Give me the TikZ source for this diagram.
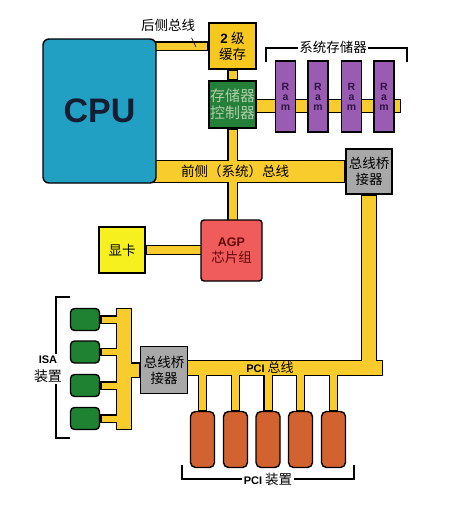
\documentclass[tikz,border=0pt]{standalone}
\usepackage{fontspec}
\setmainfont{Liberation Sans}
\newfontfamily\cjk{Noto Sans CJK SC}
\usetikzlibrary{backgrounds}

\definecolor{cpublue}{RGB}{33,160,196}
\definecolor{cpuink}{RGB}{20,30,50}
\definecolor{cacheyellow}{RGB}{246,200,30}
\definecolor{busyellow}{RGB}{248,204,45}
\definecolor{ctrlgreen}{RGB}{36,128,56}
\definecolor{ctrlink}{RGB}{175,205,170}
\definecolor{rampurple}{RGB}{154,92,178}
\definecolor{ramink}{RGB}{50,20,70}
\definecolor{bridgegray}{RGB}{168,168,168}
\definecolor{agpred}{RGB}{240,92,92}
\definecolor{agpink}{RGB}{100,10,10}
\definecolor{cardyellow}{RGB}{246,240,30}
\definecolor{isagreen}{RGB}{30,130,50}
\definecolor{pciorange}{RGB}{210,98,48}

\newcommand{\zh}[1]{{\cjk #1}}

\tikzset{
	box/.style={draw, line width=1.4pt, inner sep=0pt, align=center},
	zhfont/.style={font=\cjk\fontsize{13.5}{16}\selectfont},
	ramfont/.style={font=\bfseries\fontsize{10.5}{10}\selectfont},
	bus/.style={line width=#1+\bx, draw=\bc, shorten <=\bs, shorten >=\bs},
	bracket/.style={line width=1.6pt},
	tag/.style={fill=white, inner sep=1.5pt, align=center},
}

\begin{document}
\begin{tikzpicture}[x=1pt, y=-1pt]
			\useasboundingbox (0, 0) rectangle (463, 514);

			% upper part
			\draw (99.5, 111) 	node[box, fill=cpublue, rounded corners=6pt, minimum width=113pt, minimum height=144pt, text=cpuink, font=\fontsize{34}{40}\selectfont\bfseries] 	(cpu) 	{CPU};
			\draw (232.5, 46) 	node[box, fill=cacheyellow, minimum width=47pt, minimum height=46pt, zhfont] 	(l2) 	{{\rmfamily\bfseries 2} 级\\缓存};
			\draw (232.5, 104.5) 	node[box, fill=ctrlgreen, minimum width=47pt, minimum height=47pt, text=ctrlink, font=\cjk\fontsize{15}{17}\selectfont] 	(ctrl) 	{存储器\\控制器};
			\draw (285.5, 96.5) 	node[box, fill=rampurple, minimum width=20pt, minimum height=71pt, text=ramink, ramfont] 	(ram1) 	{R\\a\\m};
			\draw (318, 96.5) 	node[box, fill=rampurple, minimum width=20pt, minimum height=71pt, text=ramink, ramfont] 	(ram2) 	{R\\a\\m};
			\draw (351.5, 96.5) 	node[box, fill=rampurple, minimum width=20pt, minimum height=71pt, text=ramink, ramfont] 	(ram3) 	{R\\a\\m};
			\draw (384, 96.5) 	node[box, fill=rampurple, minimum width=20pt, minimum height=71pt, text=ramink, ramfont] 	(ram4) 	{R\\a\\m};
			\draw (369, 171.5) 	node[box, fill=bridgegray, minimum width=46pt, minimum height=45pt, zhfont] 	(bridge1) 	{总线桥\\接器};
			\draw (231.5, 250.5) 	node[box, fill=agpred, rounded corners=3pt, minimum width=61pt, minimum height=61pt, text=agpink, zhfont] 	(agp) 	{{\rmfamily\bfseries\fontsize{12.5}{15}\selectfont AGP}\\芯片组};
			\draw (122, 250) 	node[box, fill=cardyellow, minimum width=46pt, minimum height=46pt, zhfont] 	(card) 	{显卡};

			% lower part
			\draw (85, 319.5) 	node[box, fill=isagreen, rounded corners=4pt, minimum width=29pt, minimum height=22pt] 	(isa1) 	{};
			\draw (85, 352) 	node[box, fill=isagreen, rounded corners=4pt, minimum width=29pt, minimum height=22pt] 	(isa2) 	{};
			\draw (85, 385.5) 	node[box, fill=isagreen, rounded corners=4pt, minimum width=29pt, minimum height=22pt] 	(isa3) 	{};
			\draw (85, 418.5) 	node[box, fill=isagreen, rounded corners=4pt, minimum width=29pt, minimum height=22pt] 	(isa4) 	{};
			\draw (164, 370) 	node[box, fill=bridgegray, minimum width=47pt, minimum height=47pt, zhfont] 	(isabr) 	{总线桥\\接器};
			\draw (202.5, 439.5) 	node[box, fill=pciorange, rounded corners=5pt, minimum width=24pt, minimum height=56pt] 	(pci1) 	{};
			\draw (235.5, 439.5) 	node[box, fill=pciorange, rounded corners=5pt, minimum width=24pt, minimum height=56pt] 	(pci2) 	{};
			\draw (268, 439.5) 	node[box, fill=pciorange, rounded corners=5pt, minimum width=24pt, minimum height=56pt] 	(pci3) 	{};
			\draw (300.5, 439.5) 	node[box, fill=pciorange, rounded corners=5pt, minimum width=24pt, minimum height=56pt] 	(pci4) 	{};
			\draw (333.5, 439.5) 	node[box, fill=pciorange, rounded corners=5pt, minimum width=24pt, minimum height=56pt] 	(pci5) 	{};

			\coordinate (ramend) at (401, 106);
			\coordinate (pciend) at (383, 368);
			\coordinate (isatop) at (124, 308);
			\coordinate (isabot) at (124, 430);

			% buses: black casing first, then the yellow
			\begin{pgfonlayer}{background}
			\foreach \bc/\bx/\bs in {black/2.6pt/0pt, busyellow/0pt/1.3pt} {
				\draw[bus=7pt] (cpu |- 0,46) -- (l2);
				\draw[bus=8pt] (l2) -- (ctrl);
				\draw[bus=12pt] (ctrl |- ramend) -- (ramend);
				\draw[bus=21pt] (cpu |- bridge1) -- (bridge1);
				\draw[bus=8pt] (ctrl) -- (ctrl |- agp);
				\draw[bus=8pt] (card) -- (card -| agp);
				\draw[bus=14pt] (bridge1) -- (bridge1 |- pciend);
				\draw[bus=14pt] (isabr |- pciend) -- (pciend);
				\draw[bus=7pt] (pci1) -- (pci1 |- pciend);
				\draw[bus=7pt] (pci2) -- (pci2 |- pciend);
				\draw[bus=7pt] (pci3) -- (pci3 |- pciend);
				\draw[bus=7pt] (pci4) -- (pci4 |- pciend);
				\draw[bus=7pt] (pci5) -- (pci5 |- pciend);
				\draw[bus=14pt] (isatop) -- (isabot);
				\draw[bus=6pt] (isa1) -- (isa1 -| isatop);
				\draw[bus=6pt] (isa2) -- (isa2 -| isatop);
				\draw[bus=6pt] (isa3) -- (isa3 -| isatop);
				\draw[bus=6pt] (isa4) -- (isa4 -| isatop);
				\draw[bus=13pt] (isatop |- isabr) -- (isabr);
			}
			\end{pgfonlayer}

			% labels
			\draw (168, 25) 	node[zhfont] 	(backlbl) 	{后侧总线};
			\coordinate (backtick) at (196, 47);
			\draw[semithick] ([xshift=-7pt, yshift=-3pt]backlbl.south east) -- (backtick);
			\draw (235, 171) 	node[zhfont] 	(fsblbl) 	{前侧（系统）总线};
			\draw (270, 368) 	node[font=\bfseries\fontsize{11}{13}\selectfont] 	(pcilbl) 	{PCI \zh{\mdseries\fontsize{13}{15}\selectfont 总线}};

			% brackets
			\draw[bracket] (266, 62) |- (407, 48) -- (407, 62);
			\draw (333, 47) 	node[tag, zhfont] 	(memlbl) 	{系统存储器};
			\draw[bracket] (70, 297) -| (56, 438) -- (70, 438);
			\draw (48, 369) 	node[tag, font=\bfseries\fontsize{11}{18}\selectfont] 	(isalbl) 	{ISA\\\zh{\mdseries\fontsize{14}{16}\selectfont 装置}};
			\draw[bracket] (182, 465) |- (354, 479) -- (354, 465);
			\draw (268, 479) 	node[tag, font=\bfseries\fontsize{11}{13}\selectfont] 	(pcidevlbl) 	{PCI \zh{\mdseries\fontsize{13.5}{16}\selectfont 装置}};
		\end{tikzpicture}
\end{document}
